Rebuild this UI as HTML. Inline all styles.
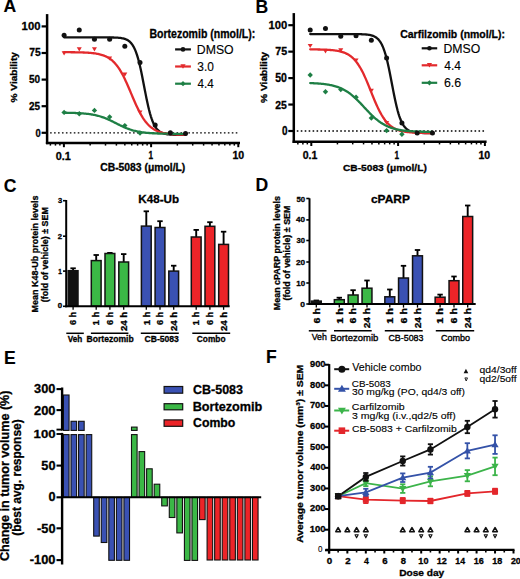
<!DOCTYPE html>
<html><head><meta charset="utf-8"><style>
html,body{margin:0;padding:0;background:#fff;overflow:hidden;}
svg{display:block;}
text{font-family:"Liberation Sans",sans-serif;font-weight:bold;fill:#000;stroke:#000;stroke-width:0.3px;}
</style></head><body>
<svg width="520" height="579" viewBox="0 0 520 579">
<rect width="520" height="579" fill="#fff"/>
<text x="3.46" y="12.3" font-size="17.6" style="stroke-width:0.1px">A</text>
<line x1="50.1" y1="132.8" x2="238.5" y2="132.8" stroke="#000" stroke-width="1.3" stroke-dasharray="1.6 2.35"/>
<polyline points="64.1,37.36 64.97,37.36 65.83,37.36 66.7,37.36 67.57,37.36 68.44,37.36 69.3,37.36 70.17,37.36 71.04,37.36 71.91,37.36 72.77,37.36 73.64,37.36 74.51,37.36 75.38,37.36 76.24,37.36 77.11,37.36 77.98,37.36 78.85,37.36 79.71,37.36 80.58,37.36 81.45,37.36 82.32,37.36 83.18,37.36 84.05,37.36 84.92,37.36 85.78,37.36 86.65,37.36 87.52,37.36 88.39,37.36 89.25,37.36 90.12,37.36 90.99,37.36 91.86,37.36 92.72,37.36 93.59,37.36 94.46,37.36 95.33,37.36 96.19,37.36 97.06,37.36 97.93,37.36 98.8,37.37 99.66,37.37 100.53,37.37 101.4,37.37 102.27,37.37 103.13,37.37 104,37.38 104.87,37.38 105.73,37.39 106.6,37.39 107.47,37.4 108.34,37.41 109.2,37.42 110.07,37.43 110.94,37.44 111.81,37.46 112.67,37.48 113.54,37.5 114.41,37.53 115.28,37.57 116.14,37.61 117.01,37.66 117.88,37.72 118.75,37.79 119.61,37.88 120.48,37.98 121.35,38.11 122.21,38.26 123.08,38.44 123.95,38.66 124.82,38.92 125.68,39.24 126.55,39.61 127.42,40.05 128.29,40.58 129.15,41.22 130.02,41.96 130.89,42.85 131.76,43.89 132.62,45.12 133.49,46.55 134.36,48.21 135.23,50.13 136.09,52.33 136.96,54.84 137.83,57.66 138.7,60.8 139.56,64.25 140.43,68.01 141.3,72.04 142.16,76.28 143.03,80.69 143.9,85.18 144.77,89.7 145.63,94.15 146.5,98.48 147.37,102.6 148.24,106.47 149.1,110.06 149.97,113.34 150.84,116.29 151.71,118.93 152.57,121.26 153.44,123.29 154.31,125.06 155.18,126.59 156.04,127.9 156.91,129.02 157.78,129.97 158.65,130.77 159.51,131.45 160.38,132.02 161.25,132.5 162.11,132.9 162.98,133.24 163.85,133.52 164.72,133.76 165.58,133.95 166.45,134.12 167.32,134.25 168.19,134.37 169.05,134.46 169.92,134.54 170.79,134.6 171.66,134.66 172.52,134.7 173.39,134.74 174.26,134.77 175.13,134.8 175.99,134.82 176.86,134.84 177.73,134.85 178.6,134.87 179.46,134.88 180.33,134.89 181.2,134.89 182.06,134.9 182.93,134.9 183.8,134.91 184.67,134.91 185.53,134.91" fill="none" stroke="#111" stroke-width="2.3" stroke-linejoin="round" stroke-linecap="round"/>
<polyline points="64.1,52.19 64.97,52.19 65.83,52.19 66.7,52.2 67.57,52.2 68.44,52.21 69.3,52.22 70.17,52.22 71.04,52.23 71.91,52.24 72.77,52.25 73.64,52.26 74.51,52.27 75.38,52.28 76.24,52.3 77.11,52.31 77.98,52.33 78.85,52.35 79.71,52.37 80.58,52.4 81.45,52.42 82.32,52.45 83.18,52.48 84.05,52.52 84.92,52.55 85.78,52.6 86.65,52.64 87.52,52.69 88.39,52.75 89.25,52.81 90.12,52.88 90.99,52.96 91.86,53.04 92.72,53.14 93.59,53.24 94.46,53.35 95.33,53.47 96.19,53.61 97.06,53.76 97.93,53.93 98.8,54.11 99.66,54.31 100.53,54.53 101.4,54.77 102.27,55.03 103.13,55.33 104,55.64 104.87,55.99 105.73,56.38 106.6,56.79 107.47,57.25 108.34,57.75 109.2,58.29 110.07,58.88 110.94,59.53 111.81,60.22 112.67,60.98 113.54,61.8 114.41,62.68 115.28,63.63 116.14,64.65 117.01,65.74 117.88,66.91 118.75,68.16 119.61,69.49 120.48,70.89 121.35,72.38 122.21,73.94 123.08,75.57 123.95,77.28 124.82,79.06 125.68,80.9 126.55,82.8 127.42,84.74 128.29,86.73 129.15,88.75 130.02,90.8 130.89,92.85 131.76,94.92 132.62,96.97 133.49,99.01 134.36,101.02 135.23,102.99 136.09,104.92 136.96,106.8 137.83,108.62 138.7,110.38 139.56,112.06 140.43,113.67 141.3,115.21 142.16,116.67 143.03,118.04 143.9,119.34 144.77,120.57 145.63,121.71 146.5,122.78 147.37,123.78 148.24,124.7 149.1,125.56 149.97,126.36 150.84,127.09 151.71,127.77 152.57,128.4 153.44,128.97 154.31,129.5 155.18,129.98 156.04,130.43 156.91,130.83 157.78,131.2 158.65,131.54 159.51,131.85 160.38,132.13 161.25,132.39 162.11,132.62 162.98,132.84 163.85,133.03 164.72,133.21 165.58,133.37 166.45,133.51 167.32,133.65 168.19,133.76 169.05,133.87 169.92,133.97 170.79,134.06 171.66,134.14 172.52,134.22 173.39,134.28 174.26,134.34 175.13,134.4 175.99,134.45 176.86,134.49 177.73,134.54 178.6,134.57 179.46,134.61 180.33,134.64 181.2,134.66 182.06,134.69 182.93,134.71 183.8,134.73 184.67,134.75 185.53,134.77" fill="none" stroke="#e32a2d" stroke-width="2.3" stroke-linejoin="round" stroke-linecap="round"/>
<polyline points="64.1,112.73 64.97,112.74 65.83,112.75 66.7,112.77 67.57,112.78 68.44,112.8 69.3,112.82 70.17,112.84 71.04,112.86 71.91,112.89 72.77,112.91 73.64,112.94 74.51,112.97 75.38,113 76.24,113.04 77.11,113.08 77.98,113.12 78.85,113.17 79.71,113.21 80.58,113.27 81.45,113.32 82.32,113.39 83.18,113.45 84.05,113.53 84.92,113.6 85.78,113.69 86.65,113.78 87.52,113.88 88.39,113.98 89.25,114.09 90.12,114.22 90.99,114.35 91.86,114.49 92.72,114.63 93.59,114.79 94.46,114.97 95.33,115.15 96.19,115.34 97.06,115.55 97.93,115.77 98.8,116 99.66,116.25 100.53,116.51 101.4,116.78 102.27,117.07 103.13,117.37 104,117.69 104.87,118.02 105.73,118.36 106.6,118.72 107.47,119.09 108.34,119.47 109.2,119.87 110.07,120.27 110.94,120.69 111.81,121.11 112.67,121.54 113.54,121.97 114.41,122.41 115.28,122.85 116.14,123.3 117.01,123.74 117.88,124.18 118.75,124.62 119.61,125.06 120.48,125.48 121.35,125.9 122.21,126.31 123.08,126.71 123.95,127.1 124.82,127.48 125.68,127.85 126.55,128.2 127.42,128.54 128.29,128.87 129.15,129.18 130.02,129.48 130.89,129.76 131.76,130.03 132.62,130.29 133.49,130.53 134.36,130.76 135.23,130.97 136.09,131.17 136.96,131.36 137.83,131.54 138.7,131.71 139.56,131.86 140.43,132.01 141.3,132.15 142.16,132.27 143.03,132.39 143.9,132.5 144.77,132.61 145.63,132.7 146.5,132.79 147.37,132.87 148.24,132.95 149.1,133.02 149.97,133.08 150.84,133.14 151.71,133.2 152.57,133.25 153.44,133.3 154.31,133.34 155.18,133.38 156.04,133.42 156.91,133.46 157.78,133.49 158.65,133.52 159.51,133.54 160.38,133.57 161.25,133.59 162.11,133.61 162.98,133.63 163.85,133.65 164.72,133.67 165.58,133.68 166.45,133.7 167.32,133.71 168.19,133.72 169.05,133.74 169.92,133.75 170.79,133.75 171.66,133.76 172.52,133.77 173.39,133.78 174.26,133.79 175.13,133.79 175.99,133.8 176.86,133.8 177.73,133.81 178.6,133.81 179.46,133.82 180.33,133.82 181.2,133.82 182.06,133.83 182.93,133.83 183.8,133.83 184.67,133.84 185.53,133.84" fill="none" stroke="#1e7f45" stroke-width="2.3" stroke-linejoin="round" stroke-linecap="round"/>
<circle cx="64.1" cy="35.2" r="2.5" fill="#111"/>
<circle cx="79.28" cy="30.1" r="2.5" fill="#111"/>
<circle cx="94.46" cy="39.2" r="2.5" fill="#111"/>
<circle cx="109.64" cy="39.2" r="2.5" fill="#111"/>
<circle cx="124.82" cy="46.3" r="2.5" fill="#111"/>
<circle cx="140" cy="62.4" r="2.5" fill="#111"/>
<circle cx="155.17" cy="125.1" r="2.5" fill="#111"/>
<circle cx="170.35" cy="132.8" r="2.5" fill="#111"/>
<circle cx="185.53" cy="133.5" r="2.5" fill="#111"/>
<path d="M61.6,51.3h5l-2.5,4.2z" fill="#e32a2d"/>
<path d="M76.78,47.3h5l-2.5,4.2z" fill="#e32a2d"/>
<path d="M91.96,47.3h5l-2.5,4.2z" fill="#e32a2d"/>
<path d="M107.14,56.4h5l-2.5,4.2z" fill="#e32a2d"/>
<path d="M122.32,72.5h5l-2.5,4.2z" fill="#e32a2d"/>
<path d="M137.5,110.4h5l-2.5,4.2z" fill="#e32a2d"/>
<path d="M64.1,109.7l2.7,2.7l-2.7,2.7l-2.7,-2.7z" fill="#1e7f45"/>
<path d="M79.28,111.1l2.7,2.7l-2.7,2.7l-2.7,-2.7z" fill="#1e7f45"/>
<path d="M94.46,107.7l2.7,2.7l-2.7,2.7l-2.7,-2.7z" fill="#1e7f45"/>
<path d="M109.64,114.2l2.7,2.7l-2.7,2.7l-2.7,-2.7z" fill="#1e7f45"/>
<path d="M124.82,122.9l2.7,2.7l-2.7,2.7l-2.7,-2.7z" fill="#1e7f45"/>
<path d="M140,130.3l2.7,2.7l-2.7,2.7l-2.7,-2.7z" fill="#1e7f45"/>
<line x1="47.1" y1="14.1" x2="47.1" y2="144.2" stroke="#000" stroke-width="2.5"/>
<line x1="45.9" y1="143" x2="240" y2="143" stroke="#000" stroke-width="2.4"/>
<line x1="41.6" y1="132.8" x2="47.1" y2="132.8" stroke="#000" stroke-width="2.2"/>
<line x1="41.6" y1="106.2" x2="47.1" y2="106.2" stroke="#000" stroke-width="2.2"/>
<line x1="41.6" y1="79.6" x2="47.1" y2="79.6" stroke="#000" stroke-width="2.2"/>
<line x1="41.6" y1="53" x2="47.1" y2="53" stroke="#000" stroke-width="2.2"/>
<line x1="41.6" y1="26.4" x2="47.1" y2="26.4" stroke="#000" stroke-width="2.2"/>
<line x1="50.39" y1="143" x2="50.39" y2="145.6" stroke="#000" stroke-width="1.5"/>
<line x1="55.45" y1="143" x2="55.45" y2="145.6" stroke="#000" stroke-width="1.5"/>
<line x1="59.91" y1="143" x2="59.91" y2="145.6" stroke="#000" stroke-width="1.5"/>
<line x1="63.9" y1="143" x2="63.9" y2="147.2" stroke="#000" stroke-width="2"/>
<line x1="90.15" y1="143" x2="90.15" y2="145.6" stroke="#000" stroke-width="1.5"/>
<line x1="105.5" y1="143" x2="105.5" y2="145.6" stroke="#000" stroke-width="1.5"/>
<line x1="116.4" y1="143" x2="116.4" y2="145.6" stroke="#000" stroke-width="1.5"/>
<line x1="124.85" y1="143" x2="124.85" y2="145.6" stroke="#000" stroke-width="1.5"/>
<line x1="131.75" y1="143" x2="131.75" y2="145.6" stroke="#000" stroke-width="1.5"/>
<line x1="137.59" y1="143" x2="137.59" y2="145.6" stroke="#000" stroke-width="1.5"/>
<line x1="142.65" y1="143" x2="142.65" y2="145.6" stroke="#000" stroke-width="1.5"/>
<line x1="147.11" y1="143" x2="147.11" y2="145.6" stroke="#000" stroke-width="1.5"/>
<line x1="151.1" y1="143" x2="151.1" y2="147.2" stroke="#000" stroke-width="2"/>
<line x1="177.35" y1="143" x2="177.35" y2="145.6" stroke="#000" stroke-width="1.5"/>
<line x1="192.7" y1="143" x2="192.7" y2="145.6" stroke="#000" stroke-width="1.5"/>
<line x1="203.6" y1="143" x2="203.6" y2="145.6" stroke="#000" stroke-width="1.5"/>
<line x1="212.05" y1="143" x2="212.05" y2="145.6" stroke="#000" stroke-width="1.5"/>
<line x1="218.95" y1="143" x2="218.95" y2="145.6" stroke="#000" stroke-width="1.5"/>
<line x1="224.79" y1="143" x2="224.79" y2="145.6" stroke="#000" stroke-width="1.5"/>
<line x1="229.85" y1="143" x2="229.85" y2="145.6" stroke="#000" stroke-width="1.5"/>
<line x1="234.31" y1="143" x2="234.31" y2="145.6" stroke="#000" stroke-width="1.5"/>
<line x1="238.3" y1="143" x2="238.3" y2="147.2" stroke="#000" stroke-width="2"/>
<text x="21.61" y="30.35" font-size="11.6" textLength="18.82" lengthAdjust="spacingAndGlyphs">100</text>
<text x="29.18" y="56.45" font-size="10.6" textLength="11.48" lengthAdjust="spacingAndGlyphs">75</text>
<text x="29.02" y="83.15" font-size="11.31" textLength="11.17" lengthAdjust="spacingAndGlyphs">50</text>
<text x="28.98" y="109.95" font-size="10.74" textLength="11.07" lengthAdjust="spacingAndGlyphs">25</text>
<text x="35.55" y="136.95" font-size="10.31" textLength="5.2" lengthAdjust="spacingAndGlyphs">0</text>
<text x="55.8" y="159.85" font-size="11.17" textLength="15.08" lengthAdjust="spacingAndGlyphs">0.1</text>
<text x="148.5" y="159.35" font-size="11.03" textLength="4.6" lengthAdjust="spacingAndGlyphs">1</text>
<text x="232.46" y="159.15" font-size="10.03" textLength="11.75" lengthAdjust="spacingAndGlyphs">10</text>
<text x="100.2" y="171.35" font-size="10.32" textLength="85.09" lengthAdjust="spacingAndGlyphs">CB-5083 (μmol/L)</text>
<text x="17.45" y="102.43" font-size="9.16" textLength="50.35" lengthAdjust="spacingAndGlyphs" transform="rotate(-90 17.45 102.43)">% Viability</text>
<text x="149.42" y="38.25" font-size="11.92" textLength="105.87" lengthAdjust="spacingAndGlyphs">Bortezomib (nmol/L):</text>
<line x1="175.1" y1="49.4" x2="190.9" y2="49.4" stroke="#111" stroke-width="2.2"/>
<circle cx="183" cy="49.4" r="2.3" fill="#111"/>
<text x="196.82" y="53.85" font-size="11.89" textLength="36.85" lengthAdjust="spacingAndGlyphs" style="font-weight:normal;stroke-width:0.12px;">DMSO</text>
<line x1="175.1" y1="66.5" x2="190.9" y2="66.5" stroke="#e32a2d" stroke-width="2.2"/>
<path d="M180.4,64.3h5.2l-2.6,4.4z" fill="#e32a2d"/>
<text x="197.37" y="70.65" font-size="12.32" textLength="16.57" lengthAdjust="spacingAndGlyphs" style="font-weight:normal;stroke-width:0.12px;">3.0</text>
<line x1="175.1" y1="83.7" x2="190.9" y2="83.7" stroke="#1e7f45" stroke-width="2.2"/>
<path d="M183,81.1l2.6,2.6l-2.6,2.6l-2.6,-2.6z" fill="#1e7f45"/>
<text x="197.56" y="87.75" font-size="12.32" textLength="16.26" lengthAdjust="spacingAndGlyphs" style="font-weight:normal;stroke-width:0.12px;">4.4</text>
<text x="255.42" y="13.1" font-size="17.6" style="stroke-width:0.1px">B</text>
<line x1="296.8" y1="131" x2="485.1" y2="131" stroke="#000" stroke-width="1.3" stroke-dasharray="1.6 2.35"/>
<polyline points="310.2,34.09 311.07,34.09 311.95,34.09 312.82,34.09 313.69,34.09 314.57,34.09 315.44,34.09 316.31,34.09 317.19,34.09 318.06,34.09 318.93,34.09 319.81,34.09 320.68,34.09 321.55,34.09 322.43,34.09 323.3,34.09 324.17,34.09 325.05,34.09 325.92,34.09 326.8,34.09 327.67,34.09 328.54,34.09 329.42,34.09 330.29,34.09 331.16,34.09 332.04,34.09 332.91,34.09 333.78,34.09 334.66,34.09 335.53,34.09 336.4,34.09 337.28,34.09 338.15,34.09 339.02,34.09 339.9,34.09 340.77,34.09 341.64,34.09 342.52,34.09 343.39,34.09 344.26,34.09 345.14,34.09 346.01,34.09 346.88,34.09 347.76,34.1 348.63,34.1 349.5,34.1 350.38,34.1 351.25,34.11 352.12,34.11 353,34.11 353.87,34.12 354.74,34.12 355.62,34.13 356.49,34.14 357.36,34.15 358.24,34.17 359.11,34.18 359.99,34.2 360.86,34.22 361.73,34.25 362.61,34.29 363.48,34.33 364.35,34.37 365.23,34.43 366.1,34.5 366.97,34.59 367.85,34.69 368.72,34.81 369.59,34.95 370.47,35.13 371.34,35.34 372.21,35.59 373.09,35.89 373.96,36.25 374.83,36.68 375.71,37.19 376.58,37.79 377.45,38.52 378.33,39.37 379.2,40.38 380.07,41.56 380.95,42.95 381.82,44.56 382.69,46.43 383.57,48.57 384.44,51.02 385.31,53.78 386.19,56.87 387.06,60.28 387.93,64 388.81,68.01 389.68,72.26 390.56,76.69 391.43,81.23 392.3,85.82 393.18,90.36 394.05,94.8 394.92,99.05 395.8,103.07 396.67,106.8 397.54,110.22 398.42,113.32 399.29,116.1 400.16,118.55 401.04,120.71 401.91,122.58 402.78,124.2 403.66,125.6 404.53,126.79 405.4,127.8 406.28,128.66 407.15,129.39 408.02,130 408.9,130.51 409.77,130.94 410.64,131.3 411.52,131.61 412.39,131.86 413.26,132.07 414.14,132.24 415.01,132.39 415.88,132.51 416.76,132.61 417.63,132.7 418.5,132.77 419.38,132.83 420.25,132.88 421.12,132.92 422,132.95 422.87,132.98 423.75,133 424.62,133.02 425.49,133.04 426.37,133.05 427.24,133.06 428.11,133.07 428.99,133.08 429.86,133.08 430.73,133.09 431.61,133.09 432.48,133.1" fill="none" stroke="#111" stroke-width="2.3" stroke-linejoin="round" stroke-linecap="round"/>
<polyline points="310.2,49.38 311.07,49.39 311.95,49.4 312.82,49.4 313.69,49.41 314.57,49.42 315.44,49.43 316.31,49.45 317.19,49.46 318.06,49.48 318.93,49.49 319.81,49.51 320.68,49.53 321.55,49.55 322.43,49.58 323.3,49.61 324.17,49.64 325.05,49.67 325.92,49.71 326.8,49.75 327.67,49.8 328.54,49.85 329.42,49.91 330.29,49.98 331.16,50.05 332.04,50.13 332.91,50.21 333.78,50.31 334.66,50.42 335.53,50.54 336.4,50.67 337.28,50.81 338.15,50.98 339.02,51.15 339.9,51.35 340.77,51.57 341.64,51.81 342.52,52.07 343.39,52.36 344.26,52.68 345.14,53.03 346.01,53.42 346.88,53.85 347.76,54.31 348.63,54.83 349.5,55.39 350.38,56 351.25,56.67 352.12,57.4 353,58.19 353.87,59.06 354.74,59.99 355.62,61 356.49,62.09 357.36,63.26 358.24,64.51 359.11,65.85 359.99,67.28 360.86,68.79 361.73,70.39 362.61,72.08 363.48,73.85 364.35,75.69 365.23,77.61 366.1,79.6 366.97,81.64 367.85,83.74 368.72,85.87 369.59,88.03 370.47,90.21 371.34,92.39 372.21,94.57 373.09,96.73 373.96,98.86 374.83,100.95 375.71,102.99 376.58,104.97 377.45,106.88 378.33,108.72 379.2,110.49 380.07,112.17 380.95,113.76 381.82,115.27 382.69,116.69 383.57,118.03 384.44,119.27 385.31,120.44 386.19,121.52 387.06,122.52 387.93,123.45 388.81,124.31 389.68,125.09 390.56,125.82 391.43,126.48 392.3,127.09 393.18,127.65 394.05,128.16 394.92,128.62 395.8,129.05 396.67,129.43 397.54,129.78 398.42,130.1 399.29,130.39 400.16,130.65 401.04,130.89 401.91,131.1 402.78,131.3 403.66,131.48 404.53,131.64 405.4,131.78 406.28,131.91 407.15,132.03 408.02,132.13 408.9,132.23 409.77,132.32 410.64,132.4 411.52,132.47 412.39,132.53 413.26,132.59 414.14,132.64 415.01,132.69 415.88,132.73 416.76,132.77 417.63,132.8 418.5,132.83 419.38,132.86 420.25,132.89 421.12,132.91 422,132.93 422.87,132.95 423.75,132.96 424.62,132.98 425.49,132.99 426.37,133 427.24,133.02 428.11,133.03 428.99,133.03 429.86,133.04 430.73,133.05 431.61,133.06 432.48,133.06" fill="none" stroke="#e32a2d" stroke-width="2.3" stroke-linejoin="round" stroke-linecap="round"/>
<polyline points="310.2,83.08 311.07,83.11 311.95,83.15 312.82,83.19 313.69,83.23 314.57,83.28 315.44,83.33 316.31,83.38 317.19,83.44 318.06,83.5 318.93,83.56 319.81,83.63 320.68,83.71 321.55,83.79 322.43,83.88 323.3,83.98 324.17,84.08 325.05,84.19 325.92,84.31 326.8,84.44 327.67,84.57 328.54,84.72 329.42,84.88 330.29,85.04 331.16,85.22 332.04,85.42 332.91,85.62 333.78,85.85 334.66,86.08 335.53,86.33 336.4,86.6 337.28,86.89 338.15,87.2 339.02,87.52 339.9,87.87 340.77,88.24 341.64,88.63 342.52,89.04 343.39,89.48 344.26,89.94 345.14,90.43 346.01,90.94 346.88,91.48 347.76,92.05 348.63,92.65 349.5,93.27 350.38,93.92 351.25,94.6 352.12,95.31 353,96.04 353.87,96.8 354.74,97.59 355.62,98.39 356.49,99.23 357.36,100.08 358.24,100.95 359.11,101.84 359.99,102.74 360.86,103.66 361.73,104.59 362.61,105.53 363.48,106.47 364.35,107.41 365.23,108.36 366.1,109.3 366.97,110.23 367.85,111.16 368.72,112.08 369.59,112.98 370.47,113.87 371.34,114.74 372.21,115.59 373.09,116.41 373.96,117.22 374.83,118 375.71,118.76 376.58,119.49 377.45,120.19 378.33,120.87 379.2,121.51 380.07,122.13 380.95,122.73 381.82,123.29 382.69,123.83 383.57,124.34 384.44,124.83 385.31,125.29 386.19,125.72 387.06,126.13 387.93,126.52 388.81,126.88 389.68,127.23 390.56,127.55 391.43,127.85 392.3,128.14 393.18,128.41 394.05,128.66 394.92,128.89 395.8,129.11 396.67,129.31 397.54,129.51 398.42,129.68 399.29,129.85 400.16,130.01 401.04,130.15 401.91,130.29 402.78,130.41 403.66,130.53 404.53,130.64 405.4,130.74 406.28,130.84 407.15,130.92 408.02,131.01 408.9,131.08 409.77,131.15 410.64,131.22 411.52,131.28 412.39,131.34 413.26,131.39 414.14,131.44 415.01,131.48 415.88,131.52 416.76,131.56 417.63,131.6 418.5,131.63 419.38,131.66 420.25,131.69 421.12,131.72 422,131.74 422.87,131.77 423.75,131.79 424.62,131.81 425.49,131.83 426.37,131.84 427.24,131.86 428.11,131.87 428.99,131.89 429.86,131.9 430.73,131.91 431.61,131.92 432.48,131.93" fill="none" stroke="#1e7f45" stroke-width="2.3" stroke-linejoin="round" stroke-linecap="round"/>
<circle cx="310.2" cy="30.1" r="2.5" fill="#111"/>
<circle cx="325.48" cy="28.5" r="2.5" fill="#111"/>
<circle cx="340.77" cy="36.2" r="2.5" fill="#111"/>
<circle cx="356.05" cy="35.8" r="2.5" fill="#111"/>
<circle cx="371.34" cy="40.2" r="2.5" fill="#111"/>
<circle cx="386.62" cy="58" r="2.5" fill="#111"/>
<circle cx="401.91" cy="122.9" r="2.5" fill="#111"/>
<circle cx="417.19" cy="133" r="2.5" fill="#111"/>
<circle cx="432.48" cy="133" r="2.5" fill="#111"/>
<path d="M307.7,43.9h5l-2.5,4.2z" fill="#e32a2d"/>
<path d="M322.98,49.3h5l-2.5,4.2z" fill="#e32a2d"/>
<path d="M338.27,48.3h5l-2.5,4.2z" fill="#e32a2d"/>
<path d="M353.55,58.4h5l-2.5,4.2z" fill="#e32a2d"/>
<path d="M368.84,88.7h5l-2.5,4.2z" fill="#e32a2d"/>
<path d="M384.12,120.9h5l-2.5,4.2z" fill="#e32a2d"/>
<path d="M310.2,72.3l2.7,2.7l-2.7,2.7l-2.7,-2.7z" fill="#1e7f45"/>
<path d="M325.48,89.1l2.7,2.7l-2.7,2.7l-2.7,-2.7z" fill="#1e7f45"/>
<path d="M340.77,86.9l2.7,2.7l-2.7,2.7l-2.7,-2.7z" fill="#1e7f45"/>
<path d="M356.05,94.6l2.7,2.7l-2.7,2.7l-2.7,-2.7z" fill="#1e7f45"/>
<path d="M371.34,115.4l2.7,2.7l-2.7,2.7l-2.7,-2.7z" fill="#1e7f45"/>
<path d="M386.62,127.9l2.7,2.7l-2.7,2.7l-2.7,-2.7z" fill="#1e7f45"/>
<path d="M401.91,131.5l2.7,2.7l-2.7,2.7l-2.7,-2.7z" fill="#1e7f45"/>
<line x1="293.8" y1="13.1" x2="293.8" y2="143" stroke="#000" stroke-width="2.5"/>
<line x1="292.6" y1="141.8" x2="486.6" y2="141.8" stroke="#000" stroke-width="2.4"/>
<line x1="288.3" y1="131" x2="293.8" y2="131" stroke="#000" stroke-width="2.2"/>
<line x1="288.3" y1="104.55" x2="293.8" y2="104.55" stroke="#000" stroke-width="2.2"/>
<line x1="288.3" y1="78.1" x2="293.8" y2="78.1" stroke="#000" stroke-width="2.2"/>
<line x1="288.3" y1="51.65" x2="293.8" y2="51.65" stroke="#000" stroke-width="2.2"/>
<line x1="288.3" y1="25.2" x2="293.8" y2="25.2" stroke="#000" stroke-width="2.2"/>
<line x1="297.85" y1="141.8" x2="297.85" y2="144.4" stroke="#000" stroke-width="1.5"/>
<line x1="302.89" y1="141.8" x2="302.89" y2="144.4" stroke="#000" stroke-width="1.5"/>
<line x1="307.33" y1="141.8" x2="307.33" y2="144.4" stroke="#000" stroke-width="1.5"/>
<line x1="311.3" y1="141.8" x2="311.3" y2="146" stroke="#000" stroke-width="2"/>
<line x1="337.43" y1="141.8" x2="337.43" y2="144.4" stroke="#000" stroke-width="1.5"/>
<line x1="352.71" y1="141.8" x2="352.71" y2="144.4" stroke="#000" stroke-width="1.5"/>
<line x1="363.56" y1="141.8" x2="363.56" y2="144.4" stroke="#000" stroke-width="1.5"/>
<line x1="371.97" y1="141.8" x2="371.97" y2="144.4" stroke="#000" stroke-width="1.5"/>
<line x1="378.84" y1="141.8" x2="378.84" y2="144.4" stroke="#000" stroke-width="1.5"/>
<line x1="384.65" y1="141.8" x2="384.65" y2="144.4" stroke="#000" stroke-width="1.5"/>
<line x1="389.69" y1="141.8" x2="389.69" y2="144.4" stroke="#000" stroke-width="1.5"/>
<line x1="394.13" y1="141.8" x2="394.13" y2="144.4" stroke="#000" stroke-width="1.5"/>
<line x1="398.1" y1="141.8" x2="398.1" y2="146" stroke="#000" stroke-width="2"/>
<line x1="424.23" y1="141.8" x2="424.23" y2="144.4" stroke="#000" stroke-width="1.5"/>
<line x1="439.51" y1="141.8" x2="439.51" y2="144.4" stroke="#000" stroke-width="1.5"/>
<line x1="450.36" y1="141.8" x2="450.36" y2="144.4" stroke="#000" stroke-width="1.5"/>
<line x1="458.77" y1="141.8" x2="458.77" y2="144.4" stroke="#000" stroke-width="1.5"/>
<line x1="465.64" y1="141.8" x2="465.64" y2="144.4" stroke="#000" stroke-width="1.5"/>
<line x1="471.45" y1="141.8" x2="471.45" y2="144.4" stroke="#000" stroke-width="1.5"/>
<line x1="476.49" y1="141.8" x2="476.49" y2="144.4" stroke="#000" stroke-width="1.5"/>
<line x1="480.93" y1="141.8" x2="480.93" y2="144.4" stroke="#000" stroke-width="1.5"/>
<line x1="484.9" y1="141.8" x2="484.9" y2="146" stroke="#000" stroke-width="2"/>
<text x="268.51" y="29.05" font-size="11.74" textLength="18.82" lengthAdjust="spacingAndGlyphs">100</text>
<text x="275.26" y="55.45" font-size="11.17" textLength="11.91" lengthAdjust="spacingAndGlyphs">75</text>
<text x="275.2" y="82.35" font-size="12.03" textLength="11.71" lengthAdjust="spacingAndGlyphs">50</text>
<text x="275.16" y="108.85" font-size="11.03" textLength="11.6" lengthAdjust="spacingAndGlyphs">25</text>
<text x="282.03" y="135.45" font-size="12.03" textLength="5.55" lengthAdjust="spacingAndGlyphs">0</text>
<text x="302.71" y="158.75" font-size="10.31" textLength="14.66" lengthAdjust="spacingAndGlyphs">0.1</text>
<text x="394.5" y="158.75" font-size="10.88" textLength="4.6" lengthAdjust="spacingAndGlyphs">1</text>
<text x="478.46" y="159.15" font-size="10.03" textLength="11.75" lengthAdjust="spacingAndGlyphs">10</text>
<text x="342.91" y="171.25" font-size="9.74" textLength="83.88" lengthAdjust="spacingAndGlyphs">CB-5083 (μmol/L)</text>
<text x="266.65" y="103.03" font-size="9.01" textLength="51.06" lengthAdjust="spacingAndGlyphs" transform="rotate(-90 266.65 103.03)">% Viability</text>
<text x="400.2" y="38.05" font-size="11.34" textLength="104.79" lengthAdjust="spacingAndGlyphs">Carfilzomib (nmol/L):</text>
<line x1="421.7" y1="48.3" x2="437.2" y2="48.3" stroke="#111" stroke-width="2.2"/>
<circle cx="429.45" cy="48.3" r="2.3" fill="#111"/>
<text x="443.52" y="53.15" font-size="12.32" textLength="36.74" lengthAdjust="spacingAndGlyphs" style="font-weight:normal;stroke-width:0.12px;">DMSO</text>
<line x1="421.7" y1="65.3" x2="437.2" y2="65.3" stroke="#e32a2d" stroke-width="2.2"/>
<path d="M426.85,63.1h5.2l-2.6,4.4z" fill="#e32a2d"/>
<text x="444.25" y="69.85" font-size="12.17" textLength="16.68" lengthAdjust="spacingAndGlyphs" style="font-weight:normal;stroke-width:0.12px;">4.4</text>
<line x1="421.7" y1="82.8" x2="437.2" y2="82.8" stroke="#1e7f45" stroke-width="2.2"/>
<path d="M429.45,80.2l2.6,2.6l-2.6,2.6l-2.6,-2.6z" fill="#1e7f45"/>
<text x="443.9" y="87.35" font-size="12.17" textLength="17.22" lengthAdjust="spacingAndGlyphs" style="font-weight:normal;stroke-width:0.12px;">6.6</text>
<text x="3.68" y="191.6" font-size="17.6" style="stroke-width:0.1px">C</text>
<line x1="66.2" y1="200" x2="66.2" y2="307.3" stroke="#000" stroke-width="2"/>
<line x1="63" y1="200.7" x2="66.2" y2="200.7" stroke="#000" stroke-width="1.6"/>
<line x1="63" y1="236.2" x2="66.2" y2="236.2" stroke="#000" stroke-width="1.6"/>
<line x1="63" y1="271.1" x2="66.2" y2="271.1" stroke="#000" stroke-width="1.6"/>
<line x1="63" y1="306.3" x2="66.2" y2="306.3" stroke="#000" stroke-width="1.6"/>
<text x="57.95" y="203.35" font-size="6.87" textLength="4.2" lengthAdjust="spacingAndGlyphs">3</text>
<text x="57.85" y="238.55" font-size="7.16" textLength="4.33" lengthAdjust="spacingAndGlyphs">2</text>
<text x="58.23" y="273.55" font-size="6.87" textLength="3.53" lengthAdjust="spacingAndGlyphs">1</text>
<text x="57.81" y="308.45" font-size="6.3" textLength="4.39" lengthAdjust="spacingAndGlyphs">0</text>
<line x1="73.1" y1="268.3" x2="73.1" y2="270.7" stroke="#000" stroke-width="1.9"/>
<line x1="70.4" y1="268.3" x2="75.8" y2="268.3" stroke="#000" stroke-width="1.8"/>
<rect x="68.2" y="270.7" width="9.8" height="35.6" fill="#111" stroke="#121212" stroke-width="1.5"/>
<line x1="73.1" y1="306.3" x2="73.1" y2="309.8" stroke="#000" stroke-width="1.3"/>
<line x1="96.2" y1="255" x2="96.2" y2="260.6" stroke="#000" stroke-width="1.9"/>
<line x1="93.5" y1="255" x2="98.9" y2="255" stroke="#000" stroke-width="1.8"/>
<rect x="91.3" y="260.6" width="9.8" height="45.7" fill="#3bb846" stroke="#121212" stroke-width="1.5"/>
<line x1="96.2" y1="306.3" x2="96.2" y2="309.8" stroke="#000" stroke-width="1.3"/>
<line x1="109.9" y1="252.9" x2="109.9" y2="253.5" stroke="#000" stroke-width="1.9"/>
<line x1="107.2" y1="252.9" x2="112.6" y2="252.9" stroke="#000" stroke-width="1.8"/>
<rect x="105" y="253.5" width="9.8" height="52.8" fill="#3bb846" stroke="#121212" stroke-width="1.5"/>
<line x1="109.9" y1="306.3" x2="109.9" y2="309.8" stroke="#000" stroke-width="1.3"/>
<line x1="123.7" y1="254.1" x2="123.7" y2="262" stroke="#000" stroke-width="1.9"/>
<line x1="121" y1="254.1" x2="126.4" y2="254.1" stroke="#000" stroke-width="1.8"/>
<rect x="118.8" y="262" width="9.8" height="44.3" fill="#3bb846" stroke="#121212" stroke-width="1.5"/>
<line x1="123.7" y1="306.3" x2="123.7" y2="309.8" stroke="#000" stroke-width="1.3"/>
<line x1="146.3" y1="211.3" x2="146.3" y2="226.1" stroke="#000" stroke-width="1.9"/>
<line x1="143.6" y1="211.3" x2="149" y2="211.3" stroke="#000" stroke-width="1.8"/>
<rect x="141.4" y="226.1" width="9.8" height="80.2" fill="#3a51b3" stroke="#121212" stroke-width="1.5"/>
<line x1="146.3" y1="306.3" x2="146.3" y2="309.8" stroke="#000" stroke-width="1.3"/>
<line x1="160" y1="221.2" x2="160" y2="227.5" stroke="#000" stroke-width="1.9"/>
<line x1="157.3" y1="221.2" x2="162.7" y2="221.2" stroke="#000" stroke-width="1.8"/>
<rect x="155.1" y="227.5" width="9.8" height="78.8" fill="#3a51b3" stroke="#121212" stroke-width="1.5"/>
<line x1="160" y1="306.3" x2="160" y2="309.8" stroke="#000" stroke-width="1.3"/>
<line x1="173.7" y1="265.7" x2="173.7" y2="271.1" stroke="#000" stroke-width="1.9"/>
<line x1="171" y1="265.7" x2="176.4" y2="265.7" stroke="#000" stroke-width="1.8"/>
<rect x="168.8" y="271.1" width="9.8" height="35.2" fill="#3a51b3" stroke="#121212" stroke-width="1.5"/>
<line x1="173.7" y1="306.3" x2="173.7" y2="309.8" stroke="#000" stroke-width="1.3"/>
<line x1="196.2" y1="229.9" x2="196.2" y2="237" stroke="#000" stroke-width="1.9"/>
<line x1="193.5" y1="229.9" x2="198.9" y2="229.9" stroke="#000" stroke-width="1.8"/>
<rect x="191.3" y="237" width="9.8" height="69.3" fill="#ec2428" stroke="#121212" stroke-width="1.5"/>
<line x1="196.2" y1="306.3" x2="196.2" y2="309.8" stroke="#000" stroke-width="1.3"/>
<line x1="209.9" y1="222.2" x2="209.9" y2="226.3" stroke="#000" stroke-width="1.9"/>
<line x1="207.2" y1="222.2" x2="212.6" y2="222.2" stroke="#000" stroke-width="1.8"/>
<rect x="205" y="226.3" width="9.8" height="80" fill="#ec2428" stroke="#121212" stroke-width="1.5"/>
<line x1="209.9" y1="306.3" x2="209.9" y2="309.8" stroke="#000" stroke-width="1.3"/>
<line x1="223.6" y1="231.7" x2="223.6" y2="244.4" stroke="#000" stroke-width="1.9"/>
<line x1="220.9" y1="231.7" x2="226.3" y2="231.7" stroke="#000" stroke-width="1.8"/>
<rect x="218.7" y="244.4" width="9.8" height="61.9" fill="#ec2428" stroke="#121212" stroke-width="1.5"/>
<line x1="223.6" y1="306.3" x2="223.6" y2="309.8" stroke="#000" stroke-width="1.3"/>
<line x1="65.2" y1="306.3" x2="229.6" y2="306.3" stroke="#000" stroke-width="2"/>
<text x="76.35" y="325.11" font-size="8.28" textLength="13.36" lengthAdjust="spacingAndGlyphs" transform="rotate(-90 76.35 325.11)">6 h</text>
<text x="99.45" y="325.37" font-size="8.28" textLength="13.63" lengthAdjust="spacingAndGlyphs" transform="rotate(-90 99.45 325.37)">1 h</text>
<text x="113.15" y="325.11" font-size="8.28" textLength="13.36" lengthAdjust="spacingAndGlyphs" transform="rotate(-90 113.15 325.11)">6 h</text>
<text x="126.95" y="331.01" font-size="8.28" textLength="19.28" lengthAdjust="spacingAndGlyphs" transform="rotate(-90 126.95 331.01)">24 h</text>
<text x="149.55" y="325.37" font-size="8.28" textLength="13.63" lengthAdjust="spacingAndGlyphs" transform="rotate(-90 149.55 325.37)">1 h</text>
<text x="163.25" y="325.11" font-size="8.28" textLength="13.36" lengthAdjust="spacingAndGlyphs" transform="rotate(-90 163.25 325.11)">6 h</text>
<text x="176.95" y="331.01" font-size="8.28" textLength="19.28" lengthAdjust="spacingAndGlyphs" transform="rotate(-90 176.95 331.01)">24 h</text>
<text x="199.45" y="325.37" font-size="8.28" textLength="13.63" lengthAdjust="spacingAndGlyphs" transform="rotate(-90 199.45 325.37)">1 h</text>
<text x="213.15" y="325.11" font-size="8.28" textLength="13.36" lengthAdjust="spacingAndGlyphs" transform="rotate(-90 213.15 325.11)">6 h</text>
<text x="226.85" y="331.01" font-size="8.28" textLength="19.28" lengthAdjust="spacingAndGlyphs" transform="rotate(-90 226.85 331.01)">24 h</text>
<line x1="66.3" y1="333.3" x2="83.8" y2="333.3" stroke="#000" stroke-width="1.5"/>
<line x1="90.9" y1="333.3" x2="128.4" y2="333.3" stroke="#000" stroke-width="1.5"/>
<line x1="140.8" y1="333.3" x2="178.8" y2="333.3" stroke="#000" stroke-width="1.5"/>
<line x1="192.3" y1="333.3" x2="230.2" y2="333.3" stroke="#000" stroke-width="1.5"/>
<text x="67.67" y="342.05" font-size="8.58" textLength="14.49" lengthAdjust="spacingAndGlyphs">Veh</text>
<text x="86.55" y="342.05" font-size="8.72" textLength="47.18" lengthAdjust="spacingAndGlyphs">Bortezomib</text>
<text x="144.47" y="342.15" font-size="9.16" textLength="34.41" lengthAdjust="spacingAndGlyphs">CB-5083</text>
<text x="196.78" y="342.15" font-size="9.16" textLength="28.72" lengthAdjust="spacingAndGlyphs">Combo</text>
<text x="138.35" y="202.95" font-size="11.63" textLength="40.7" lengthAdjust="spacingAndGlyphs">K48-Ub</text>
<text x="37.95" y="312.37" font-size="8.72" textLength="116.82" lengthAdjust="spacingAndGlyphs" transform="rotate(-90 37.95 312.37)">Mean K48-Ub protein levels</text>
<text x="48.45" y="302.12" font-size="8.43" textLength="94.99" lengthAdjust="spacingAndGlyphs" transform="rotate(-90 48.45 302.12)">(fold of vehicle) ± SEM</text>
<text x="255.42" y="191" font-size="17.6" style="stroke-width:0.1px">D</text>
<line x1="309.5" y1="198.3" x2="309.5" y2="305" stroke="#000" stroke-width="2"/>
<line x1="306.3" y1="198.5" x2="309.5" y2="198.5" stroke="#000" stroke-width="1.6"/>
<line x1="306.3" y1="219.9" x2="309.5" y2="219.9" stroke="#000" stroke-width="1.6"/>
<line x1="306.3" y1="240.5" x2="309.5" y2="240.5" stroke="#000" stroke-width="1.6"/>
<line x1="306.3" y1="262" x2="309.5" y2="262" stroke="#000" stroke-width="1.6"/>
<line x1="306.3" y1="283" x2="309.5" y2="283" stroke="#000" stroke-width="1.6"/>
<line x1="306.3" y1="304" x2="309.5" y2="304" stroke="#000" stroke-width="1.6"/>
<text x="296.49" y="201.85" font-size="7.88" textLength="8.61" lengthAdjust="spacingAndGlyphs">50</text>
<text x="296.1" y="222.35" font-size="7.88" textLength="9" lengthAdjust="spacingAndGlyphs">40</text>
<text x="296.55" y="243.35" font-size="7.88" textLength="8.54" lengthAdjust="spacingAndGlyphs">30</text>
<text x="295.94" y="264.85" font-size="7.88" textLength="9.17" lengthAdjust="spacingAndGlyphs">20</text>
<text x="296.22" y="285.85" font-size="7.88" textLength="8.88" lengthAdjust="spacingAndGlyphs">10</text>
<text x="300.39" y="306.85" font-size="7.88" textLength="4.74" lengthAdjust="spacingAndGlyphs">0</text>
<line x1="316.3" y1="300.5" x2="316.3" y2="301.1" stroke="#000" stroke-width="1.9"/>
<line x1="313.6" y1="300.5" x2="319" y2="300.5" stroke="#000" stroke-width="1.8"/>
<rect x="311.35" y="301.1" width="9.9" height="2.9" fill="#111" stroke="#121212" stroke-width="1.5"/>
<line x1="316.3" y1="304" x2="316.3" y2="307.6" stroke="#000" stroke-width="1.3"/>
<line x1="339.3" y1="297.7" x2="339.3" y2="299.7" stroke="#000" stroke-width="1.9"/>
<line x1="336.6" y1="297.7" x2="342" y2="297.7" stroke="#000" stroke-width="1.8"/>
<rect x="334.35" y="299.7" width="9.9" height="4.3" fill="#3bb846" stroke="#121212" stroke-width="1.5"/>
<line x1="339.3" y1="304" x2="339.3" y2="307.6" stroke="#000" stroke-width="1.3"/>
<line x1="353.1" y1="290.2" x2="353.1" y2="295" stroke="#000" stroke-width="1.9"/>
<line x1="350.4" y1="290.2" x2="355.8" y2="290.2" stroke="#000" stroke-width="1.8"/>
<rect x="348.15" y="295" width="9.9" height="9" fill="#3bb846" stroke="#121212" stroke-width="1.5"/>
<line x1="353.1" y1="304" x2="353.1" y2="307.6" stroke="#000" stroke-width="1.3"/>
<line x1="367" y1="280.5" x2="367" y2="288.2" stroke="#000" stroke-width="1.9"/>
<line x1="364.3" y1="280.5" x2="369.7" y2="280.5" stroke="#000" stroke-width="1.8"/>
<rect x="362.05" y="288.2" width="9.9" height="15.8" fill="#3bb846" stroke="#121212" stroke-width="1.5"/>
<line x1="367" y1="304" x2="367" y2="307.6" stroke="#000" stroke-width="1.3"/>
<line x1="389.8" y1="289.5" x2="389.8" y2="296.8" stroke="#000" stroke-width="1.9"/>
<line x1="387.1" y1="289.5" x2="392.5" y2="289.5" stroke="#000" stroke-width="1.8"/>
<rect x="384.85" y="296.8" width="9.9" height="7.2" fill="#3a51b3" stroke="#121212" stroke-width="1.5"/>
<line x1="389.8" y1="304" x2="389.8" y2="307.6" stroke="#000" stroke-width="1.3"/>
<line x1="403.5" y1="265.8" x2="403.5" y2="278" stroke="#000" stroke-width="1.9"/>
<line x1="400.8" y1="265.8" x2="406.2" y2="265.8" stroke="#000" stroke-width="1.8"/>
<rect x="398.55" y="278" width="9.9" height="26" fill="#3a51b3" stroke="#121212" stroke-width="1.5"/>
<line x1="403.5" y1="304" x2="403.5" y2="307.6" stroke="#000" stroke-width="1.3"/>
<line x1="417.5" y1="250" x2="417.5" y2="255.8" stroke="#000" stroke-width="1.9"/>
<line x1="414.8" y1="250" x2="420.2" y2="250" stroke="#000" stroke-width="1.8"/>
<rect x="412.55" y="255.8" width="9.9" height="48.2" fill="#3a51b3" stroke="#121212" stroke-width="1.5"/>
<line x1="417.5" y1="304" x2="417.5" y2="307.6" stroke="#000" stroke-width="1.3"/>
<line x1="440.1" y1="294.6" x2="440.1" y2="297.2" stroke="#000" stroke-width="1.9"/>
<line x1="437.4" y1="294.6" x2="442.8" y2="294.6" stroke="#000" stroke-width="1.8"/>
<rect x="435.15" y="297.2" width="9.9" height="6.8" fill="#ec2428" stroke="#121212" stroke-width="1.5"/>
<line x1="440.1" y1="304" x2="440.1" y2="307.6" stroke="#000" stroke-width="1.3"/>
<line x1="454" y1="276.5" x2="454" y2="280.7" stroke="#000" stroke-width="1.9"/>
<line x1="451.3" y1="276.5" x2="456.7" y2="276.5" stroke="#000" stroke-width="1.8"/>
<rect x="449.05" y="280.7" width="9.9" height="23.3" fill="#ec2428" stroke="#121212" stroke-width="1.5"/>
<line x1="454" y1="304" x2="454" y2="307.6" stroke="#000" stroke-width="1.3"/>
<line x1="467.7" y1="205.5" x2="467.7" y2="216.5" stroke="#000" stroke-width="1.9"/>
<line x1="465" y1="205.5" x2="470.4" y2="205.5" stroke="#000" stroke-width="1.8"/>
<rect x="462.75" y="216.5" width="9.9" height="87.5" fill="#ec2428" stroke="#121212" stroke-width="1.5"/>
<line x1="467.7" y1="304" x2="467.7" y2="307.6" stroke="#000" stroke-width="1.3"/>
<line x1="308.5" y1="304" x2="475.7" y2="304" stroke="#000" stroke-width="2"/>
<text x="319.55" y="323.47" font-size="8.28" textLength="15.4" lengthAdjust="spacingAndGlyphs" transform="rotate(-90 319.55 323.47)">6 h</text>
<text x="342.55" y="323.76" font-size="8.28" textLength="15.71" lengthAdjust="spacingAndGlyphs" transform="rotate(-90 342.55 323.76)">1 h</text>
<text x="356.35" y="323.47" font-size="8.28" textLength="15.4" lengthAdjust="spacingAndGlyphs" transform="rotate(-90 356.35 323.47)">6 h</text>
<text x="370.25" y="328.33" font-size="8.28" textLength="20.23" lengthAdjust="spacingAndGlyphs" transform="rotate(-90 370.25 328.33)">24 h</text>
<text x="393.05" y="323.76" font-size="8.28" textLength="15.71" lengthAdjust="spacingAndGlyphs" transform="rotate(-90 393.05 323.76)">1 h</text>
<text x="406.75" y="323.47" font-size="8.28" textLength="15.4" lengthAdjust="spacingAndGlyphs" transform="rotate(-90 406.75 323.47)">6 h</text>
<text x="420.75" y="328.33" font-size="8.28" textLength="20.23" lengthAdjust="spacingAndGlyphs" transform="rotate(-90 420.75 328.33)">24 h</text>
<text x="443.35" y="323.76" font-size="8.28" textLength="15.71" lengthAdjust="spacingAndGlyphs" transform="rotate(-90 443.35 323.76)">1 h</text>
<text x="457.25" y="323.47" font-size="8.28" textLength="15.4" lengthAdjust="spacingAndGlyphs" transform="rotate(-90 457.25 323.47)">6 h</text>
<text x="470.95" y="328.33" font-size="8.28" textLength="20.23" lengthAdjust="spacingAndGlyphs" transform="rotate(-90 470.95 328.33)">24 h</text>
<line x1="308.8" y1="330.8" x2="326.5" y2="330.8" stroke="#000" stroke-width="1.5"/>
<line x1="334" y1="330.8" x2="371.7" y2="330.8" stroke="#000" stroke-width="1.5"/>
<line x1="384.8" y1="330.8" x2="422.7" y2="330.8" stroke="#000" stroke-width="1.5"/>
<line x1="435.8" y1="330.8" x2="474.2" y2="330.8" stroke="#000" stroke-width="1.5"/>
<text x="311.69" y="340.35" font-size="9.45" textLength="15.14" lengthAdjust="spacingAndGlyphs" style="font-weight:normal;stroke-width:0.35px;">Veh</text>
<text x="330.25" y="340.65" font-size="9.45" textLength="48.03" lengthAdjust="spacingAndGlyphs" style="font-weight:normal;stroke-width:0.35px;">Bortezomib</text>
<text x="388.47" y="340.85" font-size="9.16" textLength="34.99" lengthAdjust="spacingAndGlyphs" style="font-weight:normal;stroke-width:0.35px;">CB-5083</text>
<text x="440.97" y="340.85" font-size="9.16" textLength="29.19" lengthAdjust="spacingAndGlyphs" style="font-weight:normal;stroke-width:0.35px;">Combo</text>
<text x="370.97" y="202.95" font-size="11.19" textLength="38.9" lengthAdjust="spacingAndGlyphs">cPARP</text>
<text x="279.85" y="310.17" font-size="8.29" textLength="114.21" lengthAdjust="spacingAndGlyphs" transform="rotate(-90 279.85 310.17)">Mean cPARP protein levels</text>
<text x="290.25" y="300.52" font-size="8.29" textLength="94.99" lengthAdjust="spacingAndGlyphs" transform="rotate(-90 290.25 300.52)">(fold of vehicle) ± SEM</text>
<text x="4.12" y="363.9" font-size="17.6" style="stroke-width:0.1px">E</text>
<rect x="63.45" y="395" width="5.6" height="35.4" fill="#3a51b3" stroke="#121212" stroke-width="1.1"/>
<rect x="63.45" y="434.6" width="5.6" height="62.7" fill="#3a51b3" stroke="#121212" stroke-width="1.1"/>
<rect x="71.01" y="421.3" width="5.6" height="9.1" fill="#3a51b3" stroke="#121212" stroke-width="1.1"/>
<rect x="71.01" y="434.6" width="5.6" height="62.7" fill="#3a51b3" stroke="#121212" stroke-width="1.1"/>
<rect x="78.57" y="421.3" width="5.6" height="9.1" fill="#3a51b3" stroke="#121212" stroke-width="1.1"/>
<rect x="78.57" y="434.6" width="5.6" height="62.7" fill="#3a51b3" stroke="#121212" stroke-width="1.1"/>
<rect x="86.13" y="434.6" width="5.6" height="62.7" fill="#3a51b3" stroke="#121212" stroke-width="1.1"/>
<rect x="93.69" y="497.3" width="5.6" height="38.8" fill="#3a51b3" stroke="#121212" stroke-width="1.1"/>
<rect x="101.25" y="497.3" width="5.6" height="45.2" fill="#3a51b3" stroke="#121212" stroke-width="1.1"/>
<rect x="108.81" y="497.3" width="5.6" height="63" fill="#3a51b3" stroke="#121212" stroke-width="1.1"/>
<rect x="116.37" y="497.3" width="5.6" height="63" fill="#3a51b3" stroke="#121212" stroke-width="1.1"/>
<rect x="123.93" y="497.3" width="5.6" height="63" fill="#3a51b3" stroke="#121212" stroke-width="1.1"/>
<rect x="131.49" y="427.1" width="5.6" height="3.3" fill="#3bb846" stroke="#121212" stroke-width="1.1"/>
<rect x="131.49" y="434.6" width="5.6" height="62.7" fill="#3bb846" stroke="#121212" stroke-width="1.1"/>
<rect x="139.05" y="451.6" width="5.6" height="45.7" fill="#3bb846" stroke="#121212" stroke-width="1.1"/>
<rect x="146.61" y="468.8" width="5.6" height="28.5" fill="#3bb846" stroke="#121212" stroke-width="1.1"/>
<rect x="154.17" y="484.2" width="5.6" height="13.1" fill="#3bb846" stroke="#121212" stroke-width="1.1"/>
<rect x="161.73" y="497.3" width="5.6" height="8.6" fill="#3bb846" stroke="#121212" stroke-width="1.1"/>
<rect x="169.29" y="497.3" width="5.6" height="20.2" fill="#3bb846" stroke="#121212" stroke-width="1.1"/>
<rect x="176.85" y="497.3" width="5.6" height="35.6" fill="#3bb846" stroke="#121212" stroke-width="1.1"/>
<rect x="184.41" y="497.3" width="5.6" height="63.1" fill="#3bb846" stroke="#121212" stroke-width="1.1"/>
<rect x="191.97" y="497.3" width="5.6" height="63.1" fill="#3bb846" stroke="#121212" stroke-width="1.1"/>
<rect x="199.53" y="497.3" width="5.6" height="22.3" fill="#ec2428" stroke="#121212" stroke-width="1.1"/>
<rect x="207.09" y="497.3" width="5.6" height="62.7" fill="#ec2428" stroke="#121212" stroke-width="1.1"/>
<rect x="214.65" y="497.3" width="5.6" height="62.7" fill="#ec2428" stroke="#121212" stroke-width="1.1"/>
<rect x="222.21" y="497.3" width="5.6" height="62.7" fill="#ec2428" stroke="#121212" stroke-width="1.1"/>
<rect x="229.77" y="497.3" width="5.6" height="62.7" fill="#ec2428" stroke="#121212" stroke-width="1.1"/>
<rect x="237.33" y="497.3" width="5.6" height="62.7" fill="#ec2428" stroke="#121212" stroke-width="1.1"/>
<rect x="244.89" y="497.3" width="5.6" height="62.7" fill="#ec2428" stroke="#121212" stroke-width="1.1"/>
<rect x="252.45" y="497.3" width="5.6" height="62.7" fill="#ec2428" stroke="#121212" stroke-width="1.1"/>
<line x1="62.1" y1="387.5" x2="62.1" y2="430.5" stroke="#000" stroke-width="2.4"/>
<line x1="62.1" y1="432.9" x2="62.1" y2="564.5" stroke="#000" stroke-width="2.4"/>
<line x1="56.5" y1="389.1" x2="62.1" y2="389.1" stroke="#000" stroke-width="2.1"/>
<line x1="56.5" y1="410.1" x2="62.1" y2="410.1" stroke="#000" stroke-width="2.1"/>
<line x1="56.5" y1="429.6" x2="62.1" y2="429.6" stroke="#000" stroke-width="1.9"/>
<line x1="56.5" y1="434" x2="62.1" y2="434" stroke="#000" stroke-width="1.9"/>
<line x1="56.5" y1="465.6" x2="62.1" y2="465.6" stroke="#000" stroke-width="2.1"/>
<line x1="56.5" y1="497.3" x2="62.1" y2="497.3" stroke="#000" stroke-width="2.1"/>
<line x1="56.5" y1="528.3" x2="62.1" y2="528.3" stroke="#000" stroke-width="2.1"/>
<line x1="56.5" y1="560.1" x2="62.1" y2="560.1" stroke="#000" stroke-width="2.1"/>
<line x1="62.1" y1="497.3" x2="261.2" y2="497.3" stroke="#000" stroke-width="2.1"/>
<text x="34.13" y="393.35" font-size="12.6" textLength="21.37" lengthAdjust="spacingAndGlyphs">300</text>
<text x="33.98" y="414.55" font-size="11.89" textLength="21.53" lengthAdjust="spacingAndGlyphs">200</text>
<text x="33.6" y="438.35" font-size="11.74" textLength="21.92" lengthAdjust="spacingAndGlyphs">100</text>
<text x="41.33" y="469.85" font-size="12.6" textLength="14.16" lengthAdjust="spacingAndGlyphs">50</text>
<text x="48.42" y="501.25" font-size="12.32" textLength="7.07" lengthAdjust="spacingAndGlyphs">0</text>
<text x="37.03" y="532.65" font-size="12.46" textLength="18.47" lengthAdjust="spacingAndGlyphs">-50</text>
<text x="29.82" y="564.05" font-size="11.89" textLength="25.68" lengthAdjust="spacingAndGlyphs">-100</text>
<rect x="164.1" y="386.5" width="18.6" height="6.7" fill="#3a51b3" stroke="#121212" stroke-width="1.2"/>
<rect x="164.1" y="403.7" width="18.6" height="6.1" fill="#3bb846" stroke="#121212" stroke-width="1.2"/>
<rect x="164.1" y="419.9" width="18.6" height="6.4" fill="#ec2428" stroke="#121212" stroke-width="1.2"/>
<text x="193.01" y="393.95" font-size="13.23" textLength="50.01" lengthAdjust="spacingAndGlyphs">CB-5083</text>
<text x="192.68" y="410.55" font-size="13.11" textLength="69.62" lengthAdjust="spacingAndGlyphs">Bortezomib</text>
<text x="193.02" y="426.65" font-size="12.79" textLength="42.33" lengthAdjust="spacingAndGlyphs">Combo</text>
<text x="8.55" y="561.09" font-size="11.92" textLength="170.59" lengthAdjust="spacingAndGlyphs" transform="rotate(-90 8.55 561.09)">Change in tumor volume (%)</text>
<text x="20.75" y="535.67" font-size="12.11" textLength="116.34" lengthAdjust="spacingAndGlyphs" transform="rotate(-90 20.75 535.67)">(best avg. response)</text>
<text x="265.92" y="363" font-size="17.6" style="stroke-width:0.1px">F</text>
<line x1="329.2" y1="364.1" x2="329.2" y2="553.5" stroke="#000" stroke-width="2.2"/>
<line x1="325" y1="550.3" x2="329.2" y2="550.3" stroke="#000" stroke-width="2"/>
<line x1="325" y1="529.68" x2="329.2" y2="529.68" stroke="#000" stroke-width="2"/>
<line x1="325" y1="509.06" x2="329.2" y2="509.06" stroke="#000" stroke-width="2"/>
<line x1="325" y1="488.44" x2="329.2" y2="488.44" stroke="#000" stroke-width="2"/>
<line x1="325" y1="467.82" x2="329.2" y2="467.82" stroke="#000" stroke-width="2"/>
<line x1="325" y1="447.2" x2="329.2" y2="447.2" stroke="#000" stroke-width="2"/>
<line x1="325" y1="426.58" x2="329.2" y2="426.58" stroke="#000" stroke-width="2"/>
<line x1="325" y1="405.96" x2="329.2" y2="405.96" stroke="#000" stroke-width="2"/>
<line x1="325" y1="385.34" x2="329.2" y2="385.34" stroke="#000" stroke-width="2"/>
<line x1="325" y1="364.72" x2="329.2" y2="364.72" stroke="#000" stroke-width="2"/>
<text x="310" y="367.45" font-size="9.45" textLength="15.56" lengthAdjust="spacingAndGlyphs">900</text>
<text x="310.03" y="387.95" font-size="9.6" textLength="15.53" lengthAdjust="spacingAndGlyphs">800</text>
<text x="309.92" y="408.15" font-size="9.6" textLength="15.64" lengthAdjust="spacingAndGlyphs">700</text>
<text x="309.98" y="428.85" font-size="9.31" textLength="15.57" lengthAdjust="spacingAndGlyphs">600</text>
<text x="310.04" y="449.55" font-size="9.6" textLength="15.52" lengthAdjust="spacingAndGlyphs">500</text>
<text x="310.19" y="469.75" font-size="9.74" textLength="15.37" lengthAdjust="spacingAndGlyphs">400</text>
<text x="310.11" y="490.75" font-size="9.31" textLength="15.44" lengthAdjust="spacingAndGlyphs">300</text>
<text x="310" y="511.05" font-size="8.59" textLength="15.56" lengthAdjust="spacingAndGlyphs">200</text>
<text x="309.73" y="531.85" font-size="8.74" textLength="15.84" lengthAdjust="spacingAndGlyphs">100</text>
<text x="318.01" y="551.65" font-size="9.88" textLength="4.48" lengthAdjust="spacingAndGlyphs" style="font-weight:normal;stroke-width:0.12px;">0</text>
<line x1="325.4" y1="549.9" x2="514.5" y2="549.9" stroke="#000" stroke-width="2.2"/>
<line x1="328.9" y1="549.9" x2="328.9" y2="553.5" stroke="#000" stroke-width="2"/>
<line x1="338.13" y1="549.9" x2="338.13" y2="552.5" stroke="#000" stroke-width="1.6"/>
<line x1="347.36" y1="549.9" x2="347.36" y2="553.5" stroke="#000" stroke-width="2"/>
<line x1="356.59" y1="549.9" x2="356.59" y2="552.5" stroke="#000" stroke-width="1.6"/>
<line x1="365.82" y1="549.9" x2="365.82" y2="553.5" stroke="#000" stroke-width="2"/>
<line x1="375.05" y1="549.9" x2="375.05" y2="552.5" stroke="#000" stroke-width="1.6"/>
<line x1="384.28" y1="549.9" x2="384.28" y2="553.5" stroke="#000" stroke-width="2"/>
<line x1="393.51" y1="549.9" x2="393.51" y2="552.5" stroke="#000" stroke-width="1.6"/>
<line x1="402.74" y1="549.9" x2="402.74" y2="553.5" stroke="#000" stroke-width="2"/>
<line x1="411.97" y1="549.9" x2="411.97" y2="552.5" stroke="#000" stroke-width="1.6"/>
<line x1="421.2" y1="549.9" x2="421.2" y2="553.5" stroke="#000" stroke-width="2"/>
<line x1="430.43" y1="549.9" x2="430.43" y2="552.5" stroke="#000" stroke-width="1.6"/>
<line x1="439.66" y1="549.9" x2="439.66" y2="553.5" stroke="#000" stroke-width="2"/>
<line x1="448.89" y1="549.9" x2="448.89" y2="552.5" stroke="#000" stroke-width="1.6"/>
<line x1="458.12" y1="549.9" x2="458.12" y2="553.5" stroke="#000" stroke-width="2"/>
<line x1="467.35" y1="549.9" x2="467.35" y2="552.5" stroke="#000" stroke-width="1.6"/>
<line x1="476.58" y1="549.9" x2="476.58" y2="553.5" stroke="#000" stroke-width="2"/>
<line x1="485.81" y1="549.9" x2="485.81" y2="552.5" stroke="#000" stroke-width="1.6"/>
<line x1="495.04" y1="549.9" x2="495.04" y2="553.5" stroke="#000" stroke-width="2"/>
<line x1="504.27" y1="549.9" x2="504.27" y2="552.5" stroke="#000" stroke-width="1.6"/>
<line x1="513.5" y1="549.9" x2="513.5" y2="553.5" stroke="#000" stroke-width="2"/>
<text x="326.79" y="564.25" font-size="8.88" textLength="5.44" lengthAdjust="spacingAndGlyphs">0</text>
<text x="345.3" y="564.25" font-size="8.88" textLength="5.37" lengthAdjust="spacingAndGlyphs">2</text>
<text x="363.96" y="564.25" font-size="8.88" textLength="4.83" lengthAdjust="spacingAndGlyphs">4</text>
<text x="382.2" y="564.25" font-size="8.88" textLength="5.35" lengthAdjust="spacingAndGlyphs">6</text>
<text x="400.72" y="564.25" font-size="8.88" textLength="5.24" lengthAdjust="spacingAndGlyphs">8</text>
<text x="418.35" y="564.25" font-size="8.88" textLength="10.09" lengthAdjust="spacingAndGlyphs">10</text>
<text x="436.81" y="564.25" font-size="8.88" textLength="10.08" lengthAdjust="spacingAndGlyphs">12</text>
<text x="455.29" y="564.25" font-size="8.88" textLength="9.75" lengthAdjust="spacingAndGlyphs">14</text>
<text x="473.74" y="564.25" font-size="8.88" textLength="10.05" lengthAdjust="spacingAndGlyphs">16</text>
<text x="492.2" y="564.25" font-size="8.88" textLength="9.99" lengthAdjust="spacingAndGlyphs">18</text>
<text x="510.92" y="564.25" font-size="8.88" textLength="9.82" lengthAdjust="spacingAndGlyphs">20</text>
<text x="399.15" y="575.95" font-size="9.3" textLength="45.08" lengthAdjust="spacingAndGlyphs">Dose day</text>
<text x="302.55" y="542.83" font-size="9.88" textLength="178.1" lengthAdjust="spacingAndGlyphs" transform="rotate(-90 302.55 542.83)">Average tumor volume (mm³) ± SEM</text>
<polyline points="338.13,496.2 365.82,499.7 402.74,500.6 430.43,501 467.35,493.4 495.04,491.3" fill="none" stroke="#e3262b" stroke-width="1.8"/>
<polyline points="338.13,496.2 365.82,483.1 402.74,488.6 430.43,481.3 467.35,475.7 495.04,466.4" fill="none" stroke="#3cb44a" stroke-width="1.8"/>
<polyline points="338.13,496.2 365.82,492.3 402.74,477.7 430.43,472.6 467.35,450.8 495.04,444.6" fill="none" stroke="#3452a8" stroke-width="1.8"/>
<polyline points="338.13,496.2 365.82,476.9 402.74,461 430.43,449.4 467.35,427 495.04,409.3" fill="none" stroke="#111" stroke-width="1.8"/>
<rect x="335.13" y="493.2" width="6" height="6" fill="#e3262b"/>
<line x1="365.82" y1="496.3" x2="365.82" y2="503.1" stroke="#e3262b" stroke-width="1.8"/>
<line x1="363.22" y1="496.3" x2="368.42" y2="496.3" stroke="#e3262b" stroke-width="1.8"/>
<line x1="363.22" y1="503.1" x2="368.42" y2="503.1" stroke="#e3262b" stroke-width="1.8"/>
<rect x="362.82" y="496.7" width="6" height="6" fill="#e3262b"/>
<line x1="402.74" y1="498" x2="402.74" y2="503.2" stroke="#e3262b" stroke-width="1.8"/>
<line x1="400.14" y1="498" x2="405.34" y2="498" stroke="#e3262b" stroke-width="1.8"/>
<line x1="400.14" y1="503.2" x2="405.34" y2="503.2" stroke="#e3262b" stroke-width="1.8"/>
<rect x="399.74" y="497.6" width="6" height="6" fill="#e3262b"/>
<line x1="430.43" y1="498.7" x2="430.43" y2="503.3" stroke="#e3262b" stroke-width="1.8"/>
<line x1="427.83" y1="498.7" x2="433.03" y2="498.7" stroke="#e3262b" stroke-width="1.8"/>
<line x1="427.83" y1="503.3" x2="433.03" y2="503.3" stroke="#e3262b" stroke-width="1.8"/>
<rect x="427.43" y="498" width="6" height="6" fill="#e3262b"/>
<line x1="467.35" y1="490.9" x2="467.35" y2="495.9" stroke="#e3262b" stroke-width="1.8"/>
<line x1="464.75" y1="490.9" x2="469.95" y2="490.9" stroke="#e3262b" stroke-width="1.8"/>
<line x1="464.75" y1="495.9" x2="469.95" y2="495.9" stroke="#e3262b" stroke-width="1.8"/>
<rect x="464.35" y="490.4" width="6" height="6" fill="#e3262b"/>
<line x1="495.04" y1="488.7" x2="495.04" y2="493.9" stroke="#e3262b" stroke-width="1.8"/>
<line x1="492.44" y1="488.7" x2="497.64" y2="488.7" stroke="#e3262b" stroke-width="1.8"/>
<line x1="492.44" y1="493.9" x2="497.64" y2="493.9" stroke="#e3262b" stroke-width="1.8"/>
<rect x="492.04" y="488.3" width="6" height="6" fill="#e3262b"/>
<path d="M338.13,499.8l3.6,-6.2h-7.2z" fill="#3cb44a"/>
<line x1="365.82" y1="480.1" x2="365.82" y2="486.1" stroke="#3cb44a" stroke-width="1.8"/>
<line x1="363.22" y1="480.1" x2="368.42" y2="480.1" stroke="#3cb44a" stroke-width="1.8"/>
<line x1="363.22" y1="486.1" x2="368.42" y2="486.1" stroke="#3cb44a" stroke-width="1.8"/>
<path d="M365.82,486.7l3.6,-6.2h-7.2z" fill="#3cb44a"/>
<line x1="402.74" y1="484.3" x2="402.74" y2="492.9" stroke="#3cb44a" stroke-width="1.8"/>
<line x1="400.14" y1="484.3" x2="405.34" y2="484.3" stroke="#3cb44a" stroke-width="1.8"/>
<line x1="400.14" y1="492.9" x2="405.34" y2="492.9" stroke="#3cb44a" stroke-width="1.8"/>
<path d="M402.74,492.2l3.6,-6.2h-7.2z" fill="#3cb44a"/>
<line x1="430.43" y1="476.3" x2="430.43" y2="486.3" stroke="#3cb44a" stroke-width="1.8"/>
<line x1="427.83" y1="476.3" x2="433.03" y2="476.3" stroke="#3cb44a" stroke-width="1.8"/>
<line x1="427.83" y1="486.3" x2="433.03" y2="486.3" stroke="#3cb44a" stroke-width="1.8"/>
<path d="M430.43,484.9l3.6,-6.2h-7.2z" fill="#3cb44a"/>
<line x1="467.35" y1="470.1" x2="467.35" y2="481.3" stroke="#3cb44a" stroke-width="1.8"/>
<line x1="464.75" y1="470.1" x2="469.95" y2="470.1" stroke="#3cb44a" stroke-width="1.8"/>
<line x1="464.75" y1="481.3" x2="469.95" y2="481.3" stroke="#3cb44a" stroke-width="1.8"/>
<path d="M467.35,479.3l3.6,-6.2h-7.2z" fill="#3cb44a"/>
<line x1="495.04" y1="457.6" x2="495.04" y2="475.2" stroke="#3cb44a" stroke-width="1.8"/>
<line x1="492.44" y1="457.6" x2="497.64" y2="457.6" stroke="#3cb44a" stroke-width="1.8"/>
<line x1="492.44" y1="475.2" x2="497.64" y2="475.2" stroke="#3cb44a" stroke-width="1.8"/>
<path d="M495.04,470l3.6,-6.2h-7.2z" fill="#3cb44a"/>
<path d="M338.13,492.6l3.6,6.2h-7.2z" fill="#3452a8"/>
<line x1="365.82" y1="488.8" x2="365.82" y2="495.8" stroke="#3452a8" stroke-width="1.8"/>
<line x1="363.22" y1="488.8" x2="368.42" y2="488.8" stroke="#3452a8" stroke-width="1.8"/>
<line x1="363.22" y1="495.8" x2="368.42" y2="495.8" stroke="#3452a8" stroke-width="1.8"/>
<path d="M365.82,488.7l3.6,6.2h-7.2z" fill="#3452a8"/>
<line x1="402.74" y1="473.4" x2="402.74" y2="482" stroke="#3452a8" stroke-width="1.8"/>
<line x1="400.14" y1="473.4" x2="405.34" y2="473.4" stroke="#3452a8" stroke-width="1.8"/>
<line x1="400.14" y1="482" x2="405.34" y2="482" stroke="#3452a8" stroke-width="1.8"/>
<path d="M402.74,474.1l3.6,6.2h-7.2z" fill="#3452a8"/>
<line x1="430.43" y1="466.8" x2="430.43" y2="478.4" stroke="#3452a8" stroke-width="1.8"/>
<line x1="427.83" y1="466.8" x2="433.03" y2="466.8" stroke="#3452a8" stroke-width="1.8"/>
<line x1="427.83" y1="478.4" x2="433.03" y2="478.4" stroke="#3452a8" stroke-width="1.8"/>
<path d="M430.43,469l3.6,6.2h-7.2z" fill="#3452a8"/>
<line x1="467.35" y1="443.2" x2="467.35" y2="458.4" stroke="#3452a8" stroke-width="1.8"/>
<line x1="464.75" y1="443.2" x2="469.95" y2="443.2" stroke="#3452a8" stroke-width="1.8"/>
<line x1="464.75" y1="458.4" x2="469.95" y2="458.4" stroke="#3452a8" stroke-width="1.8"/>
<path d="M467.35,447.2l3.6,6.2h-7.2z" fill="#3452a8"/>
<line x1="495.04" y1="435.3" x2="495.04" y2="453.9" stroke="#3452a8" stroke-width="1.8"/>
<line x1="492.44" y1="435.3" x2="497.64" y2="435.3" stroke="#3452a8" stroke-width="1.8"/>
<line x1="492.44" y1="453.9" x2="497.64" y2="453.9" stroke="#3452a8" stroke-width="1.8"/>
<path d="M495.04,441l3.6,6.2h-7.2z" fill="#3452a8"/>
<circle cx="338.13" cy="496.2" r="3.2" fill="#111"/>
<line x1="365.82" y1="473" x2="365.82" y2="480.8" stroke="#111" stroke-width="1.8"/>
<line x1="363.22" y1="473" x2="368.42" y2="473" stroke="#111" stroke-width="1.8"/>
<line x1="363.22" y1="480.8" x2="368.42" y2="480.8" stroke="#111" stroke-width="1.8"/>
<circle cx="365.82" cy="476.9" r="3.2" fill="#111"/>
<line x1="402.74" y1="456.4" x2="402.74" y2="465.6" stroke="#111" stroke-width="1.8"/>
<line x1="400.14" y1="456.4" x2="405.34" y2="456.4" stroke="#111" stroke-width="1.8"/>
<line x1="400.14" y1="465.6" x2="405.34" y2="465.6" stroke="#111" stroke-width="1.8"/>
<circle cx="402.74" cy="461" r="3.2" fill="#111"/>
<line x1="430.43" y1="444.2" x2="430.43" y2="454.6" stroke="#111" stroke-width="1.8"/>
<line x1="427.83" y1="444.2" x2="433.03" y2="444.2" stroke="#111" stroke-width="1.8"/>
<line x1="427.83" y1="454.6" x2="433.03" y2="454.6" stroke="#111" stroke-width="1.8"/>
<circle cx="430.43" cy="449.4" r="3.2" fill="#111"/>
<line x1="467.35" y1="420.8" x2="467.35" y2="433.2" stroke="#111" stroke-width="1.8"/>
<line x1="464.75" y1="420.8" x2="469.95" y2="420.8" stroke="#111" stroke-width="1.8"/>
<line x1="464.75" y1="433.2" x2="469.95" y2="433.2" stroke="#111" stroke-width="1.8"/>
<circle cx="467.35" cy="427" r="3.2" fill="#111"/>
<line x1="495.04" y1="401" x2="495.04" y2="417.6" stroke="#111" stroke-width="1.8"/>
<line x1="492.44" y1="401" x2="497.64" y2="401" stroke="#111" stroke-width="1.8"/>
<line x1="492.44" y1="417.6" x2="497.64" y2="417.6" stroke="#111" stroke-width="1.8"/>
<circle cx="495.04" cy="409.3" r="3.2" fill="#111"/>
<rect x="335.03" y="493.1" width="6.2" height="6.2" fill="#111"/>
<line x1="334.2" y1="369.2" x2="349.2" y2="369.2" stroke="#111" stroke-width="2"/>
<circle cx="341.9" cy="369.2" r="3.52" fill="#111"/>
<line x1="334.2" y1="388.8" x2="349.2" y2="388.8" stroke="#3452a8" stroke-width="2"/>
<path d="M341.9,384.84l3.96,6.82h-7.92z" fill="#3452a8"/>
<line x1="334.2" y1="410.5" x2="349.2" y2="410.5" stroke="#3cb44a" stroke-width="2"/>
<path d="M341.9,414.46l3.96,-6.82h-7.92z" fill="#3cb44a"/>
<line x1="334.2" y1="430.7" x2="349.2" y2="430.7" stroke="#e3262b" stroke-width="2"/>
<rect x="338.6" y="427.4" width="6.6" height="6.6" fill="#e3262b"/>
<text x="352.28" y="370.85" font-size="10.17" textLength="69.24" lengthAdjust="spacingAndGlyphs" style="font-weight:normal;stroke-width:0.12px;">Vehicle combo</text>
<text x="351.82" y="386.65" font-size="9.59" textLength="38.99" lengthAdjust="spacingAndGlyphs" style="font-weight:normal;stroke-width:0.12px;">CB-5083</text>
<text x="352.03" y="395.35" font-size="9.74" textLength="112.88" lengthAdjust="spacingAndGlyphs" style="font-weight:normal;stroke-width:0.12px;">30 mg/kg (PO, qd4/3 off)</text>
<text x="351.89" y="410.35" font-size="9.74" textLength="52.83" lengthAdjust="spacingAndGlyphs" style="font-weight:normal;stroke-width:0.12px;">Carfilzomib</text>
<text x="352.03" y="418.85" font-size="9.59" textLength="103.69" lengthAdjust="spacingAndGlyphs" style="font-weight:normal;stroke-width:0.12px;">3 mg/kg (i.v.,qd2/5 off)</text>
<text x="351.9" y="431.55" font-size="9.59" textLength="104.81" lengthAdjust="spacingAndGlyphs" style="font-weight:normal;stroke-width:0.12px;">CB-5083 + Carfilzomib</text>
<path d="M465.95,368.7l2.3,4.6h-4.6z" fill="#111"/>
<path d="M466.2,381l1.3,-3.1h-2.6z" fill="none" stroke="#111" stroke-width="0.9"/>
<text x="479.59" y="373.25" font-size="9.38" textLength="37.07" lengthAdjust="spacingAndGlyphs" style="font-weight:normal;stroke-width:0.12px;">qd4/3off</text>
<text x="479.59" y="381.65" font-size="9.38" textLength="37.07" lengthAdjust="spacingAndGlyphs" style="font-weight:normal;stroke-width:0.12px;">qd2/5off</text>
<path d="M338.13,527.6l2.3,4.1h-4.6z" fill="none" stroke="#111" stroke-width="1.6" stroke-linejoin="round"/>
<path d="M347.36,527.6l2.3,4.1h-4.6z" fill="none" stroke="#111" stroke-width="1.6" stroke-linejoin="round"/>
<path d="M356.59,527.6l2.3,4.1h-4.6z" fill="none" stroke="#111" stroke-width="1.6" stroke-linejoin="round"/>
<path d="M365.82,527.6l2.3,4.1h-4.6z" fill="none" stroke="#111" stroke-width="1.6" stroke-linejoin="round"/>
<path d="M402.74,527.6l2.3,4.1h-4.6z" fill="none" stroke="#111" stroke-width="1.6" stroke-linejoin="round"/>
<path d="M411.97,527.6l2.3,4.1h-4.6z" fill="none" stroke="#111" stroke-width="1.6" stroke-linejoin="round"/>
<path d="M421.2,527.6l2.3,4.1h-4.6z" fill="none" stroke="#111" stroke-width="1.6" stroke-linejoin="round"/>
<path d="M430.43,527.6l2.3,4.1h-4.6z" fill="none" stroke="#111" stroke-width="1.6" stroke-linejoin="round"/>
<path d="M467.35,527.6l2.3,4.1h-4.6z" fill="none" stroke="#111" stroke-width="1.6" stroke-linejoin="round"/>
<path d="M476.58,527.6l2.3,4.1h-4.6z" fill="none" stroke="#111" stroke-width="1.6" stroke-linejoin="round"/>
<path d="M485.81,527.6l2.3,4.1h-4.6z" fill="none" stroke="#111" stroke-width="1.6" stroke-linejoin="round"/>
<path d="M495.04,527.6l2.3,4.1h-4.6z" fill="none" stroke="#111" stroke-width="1.6" stroke-linejoin="round"/>
<path d="M356.59,537.8l1.6,-3h-3.2z" fill="none" stroke="#111" stroke-width="1.1" stroke-linejoin="round"/>
<path d="M365.82,537.8l1.6,-3h-3.2z" fill="none" stroke="#111" stroke-width="1.1" stroke-linejoin="round"/>
<path d="M421.2,537.8l1.6,-3h-3.2z" fill="none" stroke="#111" stroke-width="1.1" stroke-linejoin="round"/>
<path d="M430.43,537.8l1.6,-3h-3.2z" fill="none" stroke="#111" stroke-width="1.1" stroke-linejoin="round"/>
<path d="M485.81,537.8l1.6,-3h-3.2z" fill="none" stroke="#111" stroke-width="1.1" stroke-linejoin="round"/>
<path d="M495.04,537.8l1.6,-3h-3.2z" fill="none" stroke="#111" stroke-width="1.1" stroke-linejoin="round"/>
</svg></body></html>
